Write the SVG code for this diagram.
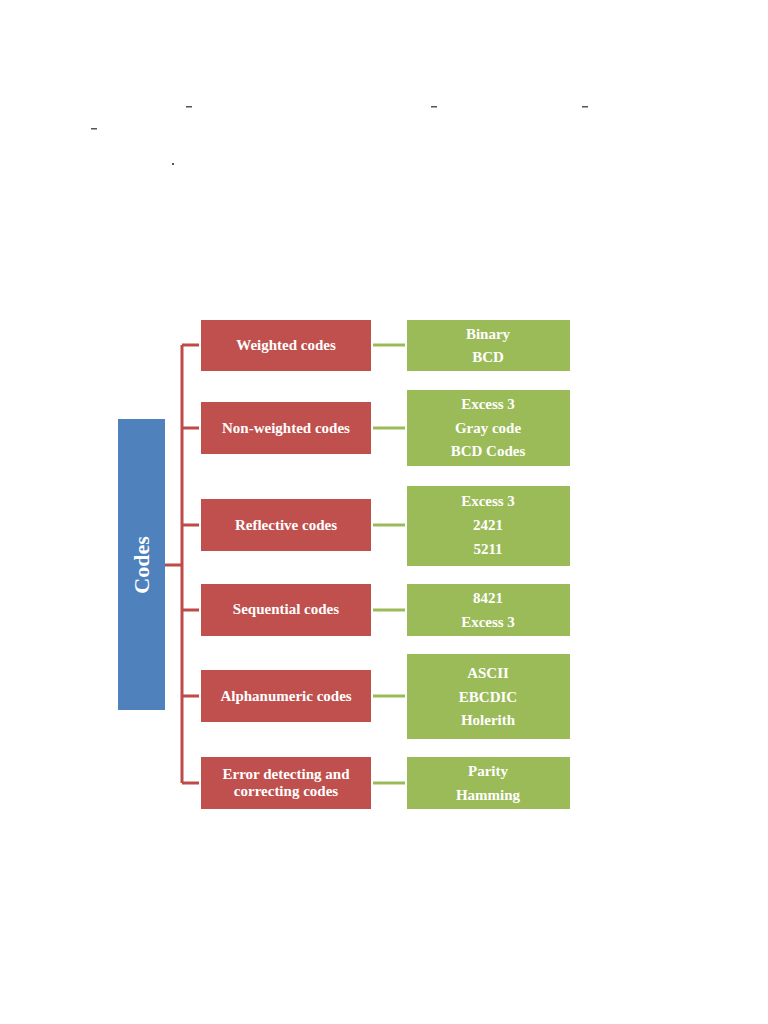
<svg xmlns="http://www.w3.org/2000/svg" width="768" height="1024" viewBox="0 0 768 1024">
<style>
.r{fill:#c0504d}.g{fill:#9bbb59}
text{font-family:"Liberation Serif","DejaVu Serif",serif;font-weight:bold;fill:#fff;font-size:15px;text-anchor:middle}
.rl{stroke:#be4b48;stroke-width:3;fill:none}.gl{stroke:#9bbb59;stroke-width:3;fill:none}
</style>
<rect width="768" height="1024" fill="#fff"/>
<g fill="#555"><rect x="186" y="106" width="6" height="1.5"/><rect x="431" y="106" width="6" height="1.5"/><rect x="582" y="106" width="6" height="1.5"/><rect x="91" y="128" width="6" height="1.5"/><rect x="172" y="163" width="2" height="2"/></g>
<g id="connectors">
<path class="rl" d="M165 565H182M182 345V783M182 345H199M182 428H199M182 525H199M182 610H199M182 696H199M182 783H199"/>
<path class="gl" d="M373 345H405M373 428H405M373 525H405M373 610H405M373 696H405M373 783H405"/>
</g>
<g id="codes"><rect x="118" y="419" width="47" height="291" fill="#4f81bd"/><text transform="translate(149 565) rotate(-90)" style="font-size:22px">Codes</text></g>
<g id="weighted"><rect class="r" x="201" y="320" width="170" height="51"/><text x="286" y="350">Weighted codes</text></g>
<g id="nonweighted"><rect class="r" x="201" y="402" width="170" height="52"/><text x="286" y="433">Non-weighted codes</text></g>
<g id="reflective"><rect class="r" x="201" y="499" width="170" height="52"/><text x="286" y="530">Reflective codes</text></g>
<g id="sequential"><rect class="r" x="201" y="584" width="170" height="52"/><text x="286" y="614">Sequential codes</text></g>
<g id="alpha"><rect class="r" x="201" y="670" width="170" height="52"/><text x="286" y="701">Alphanumeric codes</text></g>
<g id="error"><rect class="r" x="201" y="757" width="170" height="52"/><text x="286" y="779">Error  detecting and</text><text x="286" y="796">correcting codes</text></g>
<g id="g1"><rect class="g" x="407" y="320" width="163" height="51"/><text x="488" y="339">Binary</text><text x="488" y="362">BCD</text></g>
<g id="g2"><rect class="g" x="407" y="390" width="163" height="76"/><text x="488" y="409">Excess 3</text><text x="488" y="433">Gray code</text><text x="488" y="456">BCD  Codes</text></g>
<g id="g3"><rect class="g" x="407" y="486" width="163" height="80"/><text x="488" y="506">Excess 3</text><text x="488" y="530">2421</text><text x="488" y="554">5211</text></g>
<g id="g4"><rect class="g" x="407" y="584" width="163" height="52"/><text x="488" y="603">8421</text><text x="488" y="627">Excess 3</text></g>
<g id="g5"><rect class="g" x="407" y="654" width="163" height="85"/><text x="488" y="678">ASCII</text><text x="488" y="702">EBCDIC</text><text x="488" y="725">Holerith</text></g>
<g id="g6"><rect class="g" x="407" y="757" width="163" height="52"/><text x="488" y="776">Parity</text><text x="488" y="800">Hamming</text></g>
</svg>
